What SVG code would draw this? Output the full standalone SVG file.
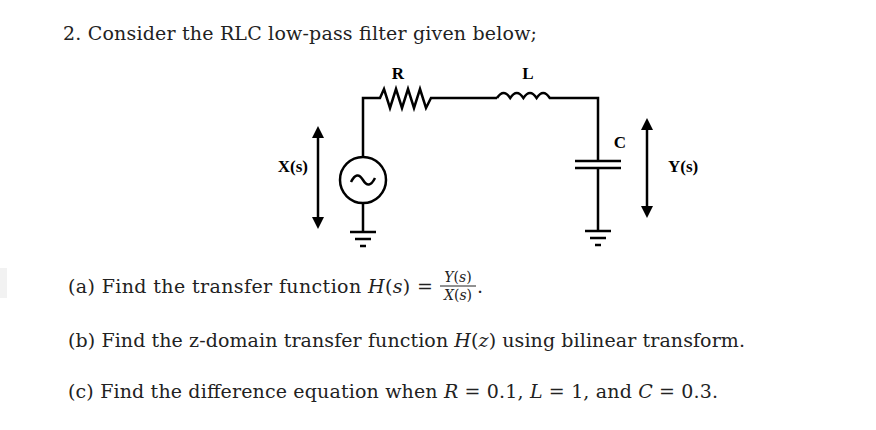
<svg xmlns="http://www.w3.org/2000/svg" width="876" height="430" viewBox="0 0 876 430">
<style>
.t{font-family:"DejaVu Serif","Liberation Serif",serif;font-size:19px;fill:#222}
.f{font-family:"DejaVu Serif","Liberation Serif",serif;font-size:14px;fill:#222}
.i{font-style:italic}
.lb{font-family:"Liberation Serif",serif;font-weight:bold;font-size:17px;fill:#000}
.w{fill:none;stroke:#000;stroke-width:2.5}
</style>
<defs>
<marker id="ah" markerWidth="12" markerHeight="12" refX="7" refY="6" orient="auto-start-reverse" markerUnits="userSpaceOnUse"><path d="M0,0 L12,6 L0,12 Z" fill="#000"/></marker>
<g id="gnd"><path d="M-13,0 H13 M-8,7 H8 M-3,14 H3" stroke="#000" stroke-width="2.5"/></g>
</defs>
<rect x="0" y="268" width="7" height="30" fill="#f2f2f2"/>
<text class="t" x="63" y="40" textLength="474" lengthAdjust="spacing">2.  Consider the RLC low-pass filter given below;</text>
<g id="connectors">
<path class="w" d="M363,156 V98 H380 L384,89 L390,108 L396,89 L402,108 L408,89 L414,108 L420,89 L426,108 L431,98 H497"/>
<path class="w" d="M497,98 q6.6,-10 13.2,0 q6.6,-10 13.2,0 q6.6,-10 13.2,0 q6.6,-10 13.2,0 H598 V161 M598,168 V230 M363,204 V231"/>
<line x1="318" y1="131" x2="318" y2="224" stroke="#000" stroke-width="2.5" marker-start="url(#ah)" marker-end="url(#ah)"/>
<line x1="647" y1="123" x2="647" y2="213" stroke="#000" stroke-width="2.5" marker-start="url(#ah)" marker-end="url(#ah)"/>
</g>
<g id="source"><circle cx="363" cy="180" r="23" fill="#fff" stroke="#000" stroke-width="2.5"/><path d="M351,182 q6,-12 12,-2 q6,10 12,-2" fill="none" stroke="#000" stroke-width="2.5"/><use href="#gnd" x="363" y="232"/></g>
<g id="cap"><path d="M575,161 H621 M575,168 H621" stroke="#000" stroke-width="2.5"/><use href="#gnd" x="598" y="231"/></g>
<text class="lb" x="398" y="79" text-anchor="middle">R</text>
<text class="lb" x="528" y="79" text-anchor="middle">L</text>
<text class="lb" x="620" y="148" text-anchor="middle">C</text>
<text class="lb" x="308" y="172" text-anchor="end">X(s)</text>
<text class="lb" x="668" y="172">Y(s)</text>
<text class="t" x="68" y="293" textLength="365" lengthAdjust="spacing">(a)  Find the transfer function <tspan class="i">H</tspan>(<tspan class="i">s</tspan>) =</text>
<text class="f" x="458" y="282" text-anchor="middle"><tspan class="i">Y</tspan>(<tspan class="i">s</tspan>)</text>
<line x1="440" y1="286" x2="476" y2="286" stroke="#222" stroke-width="1"/>
<text class="f" x="458" y="300" text-anchor="middle"><tspan class="i">X</tspan>(<tspan class="i">s</tspan>)</text>
<text class="t" x="477" y="293">.</text>
<text class="t" x="68" y="347" textLength="677" lengthAdjust="spacing">(b)  Find the z-domain transfer function <tspan class="i">H</tspan>(<tspan class="i">z</tspan>) using bilinear transform.</text>
<text class="t" x="68" y="398" textLength="650" lengthAdjust="spacing">(c)  Find the difference equation when <tspan class="i">R</tspan> = 0.1, <tspan class="i">L</tspan> = 1, and <tspan class="i">C</tspan> = 0.3.</text>
</svg>
